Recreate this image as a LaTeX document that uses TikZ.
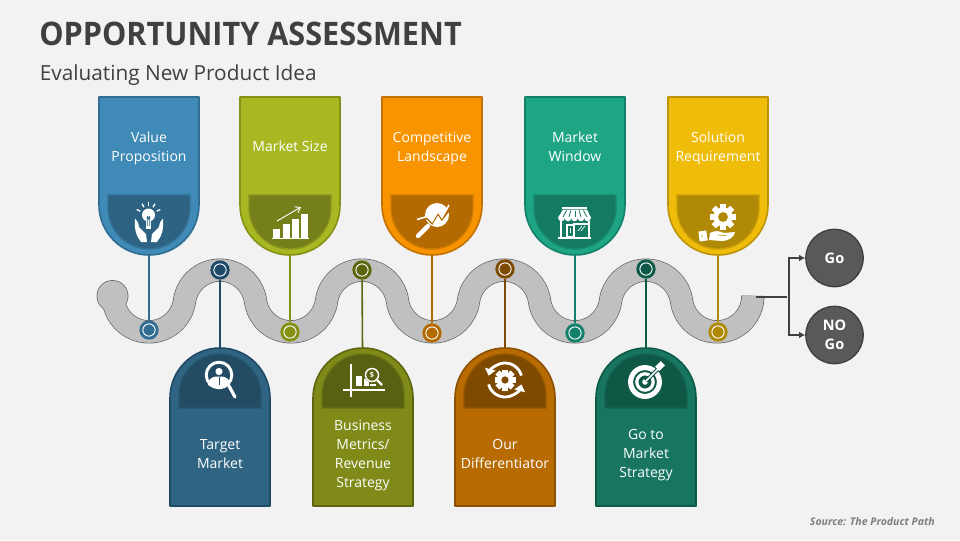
\documentclass[tikz,border=0pt]{standalone}
\usepackage{graphicx}
\usepackage{fontspec}
\setmainfont{Open Sans}
\usetikzlibrary{arrows.meta}
\tikzset{>={Latex[width=5pt,length=4.5pt]}}
\definecolor{pagebg}{HTML}{F2F2F2}
\definecolor{titlegrey}{HTML}{404040}
\definecolor{bandfill}{HTML}{C0C0C0}
\definecolor{bandedge}{HTML}{5F5F5F}
\definecolor{blueA}{HTML}{3F8AB6}
\definecolor{blueB}{HTML}{2F6D92}
\definecolor{blueC}{HTML}{2D6283}
\definecolor{greenA}{HTML}{A8B823}
\definecolor{greenB}{HTML}{849115}
\definecolor{greenC}{HTML}{76801A}
\definecolor{orangeA}{HTML}{F89400}
\definecolor{orangeB}{HTML}{C27200}
\definecolor{orangeC}{HTML}{B36A00}
\definecolor{tealA}{HTML}{1EA583}
\definecolor{tealB}{HTML}{13806A}
\definecolor{tealC}{HTML}{147A62}
\definecolor{yellowA}{HTML}{F0BC0A}
\definecolor{yellowB}{HTML}{BD930A}
\definecolor{yellowC}{HTML}{B08A06}
\definecolor{navyA}{HTML}{2F6583}
\definecolor{navyB}{HTML}{1E4A68}
\definecolor{navyC}{HTML}{234B63}
\definecolor{oliveA}{HTML}{7F8A18}
\definecolor{oliveB}{HTML}{5D660F}
\definecolor{oliveC}{HTML}{586012}
\definecolor{brownA}{HTML}{B86B00}
\definecolor{brownB}{HTML}{8A5000}
\definecolor{brownC}{HTML}{7E4A00}
\definecolor{pineA}{HTML}{177560}
\definecolor{pineB}{HTML}{0E5A48}
\definecolor{pineC}{HTML}{105846}
\definecolor{goA}{HTML}{595959}
\definecolor{goB}{HTML}{404040}
\definecolor{sourcegrey}{HTML}{7F7F7F}
\tikzset{
  cardbox/.style={inner sep=0pt,minimum width=75pt,minimum height=119pt},
  cardtext/.style={text=white,align=center,inner sep=0pt,font=\fontsize{10.5}{14.3}\selectfont},
  dotnode/.style={circle,inner sep=0pt,minimum size=14.5pt,
    path picture={\draw[white,line width=0.7pt] (path picture bounding box.center) circle[radius=4.6pt];}},
  link/.style={line width=1.2pt},
  decide/.style={circle,fill=goA,draw=goB,line width=1pt,inner sep=0pt,minimum size=43pt,
    text=white,align=center,font=\fontsize{10.9}{14.3}\selectfont\bfseries},
  flow/.style={draw=goB,line width=1.2pt},
}

\newcommand{\BandPath}{(113.15,296)
  arc[start angle=180,end angle=8,radius=35.85]
  arc[start angle=188,end angle=352,radius=35.85]
  arc[start angle=172,end angle=8,radius=35.85]
  arc[start angle=188,end angle=352,radius=35.85]
  arc[start angle=172,end angle=8,radius=35.85]
  arc[start angle=188,end angle=352,radius=35.85]
  arc[start angle=172,end angle=8,radius=35.85]
  arc[start angle=188,end angle=352,radius=35.85]
  arc[start angle=172,end angle=0,radius=35.85] -- ++(0,2)}

\newcommand{\TopCard}[6]{
  \draw[fill=#3,draw=#4,line width=1.2pt,line join=round]
  (#2-50,97) -- (#2+50,97) -- (#2+50,205) arc[start angle=0,end angle=180,radius=50] -- cycle;
  \draw[fill=#5,draw=#5!60!#3,line width=1pt]
  (#2-41,195) -- (#2+41,195) -- (#2+41,208) arc[start angle=0,end angle=180,radius=41] -- cycle;
  \node[cardbox] (#1) at (#2,176) {};
  \node[cardtext] (#1Text) at (#2,148) {\strut #6\strut};
}
\newcommand{\LowCard}[6]{
  \draw[fill=#3,draw=#4,line width=1.2pt,line join=round]
  (#2-50,506) -- (#2+50,506) -- (#2+50,398) arc[start angle=0,end angle=-180,radius=50] -- cycle;
  \draw[fill=#5,draw=#5!60!#3,line width=1pt]
  (#2-41,408) -- (#2+41,408) -- (#2+41,395) arc[start angle=0,end angle=-180,radius=41] -- cycle;
  \node[cardbox] (#1) at (#2,427) {};
  \node[cardtext] (#1Text) at (#2,455) {\strut #6\strut};
}
\newcommand{\GearIcon}[5]{
  \foreach \a in {0,45,...,315}
    \fill[white,rotate around={\a:(#1,#2)}] (#1-2.8,#2-#4) rectangle (#1+2.8,#2+#4);
  \fill[white] (#1,#2) circle[radius=#3];
  \fill[#5] (#1,#2) circle[radius=0.52*#3];
}

\begin{document}
\begin{tikzpicture}[x=0.75pt,y=0.75pt,yscale=-1]

  \fill[pagebg] (0,0) rectangle (960,540);

  \node[anchor=west,inner sep=0pt,text=titlegrey,font=\fontsize{24.3}{28}\selectfont\bfseries]
  (titleText) at (39,34) {\scalebox{0.945}[1]{OPPORTUNITY ASSESSMENT}};
  \node[anchor=west,inner sep=0pt,text=titlegrey,font=\fontsize{15.6}{18}\selectfont]
  (subtitleText) at (39.5,75) {Evaluating New Product Idea};
  \node[anchor=east,inner sep=0pt,text=sourcegrey,font=\fontsize{7.9}{9}\selectfont\bfseries\itshape]
  (sourceText) at (935,522) {Source: The Product Path};

  \draw[bandedge,line width=17.4pt] \BandPath;
  \fill[bandedge] (112.5,296) circle[radius=15.9];
  \draw[bandfill,line width=16.4pt] \BandPath;
  \fill[bandfill] (112.5,296) circle[radius=15.2];

  \foreach \name/\x/\y/\col in {dotA/149/330/blueB,dotB/220/270/navyB,dotC/290/332/greenB,
    dotD/362/270/oliveB,dotE/432/333/orangeC,dotF/505/269/brownC,dotG/575/333/tealB,
    dotH/646/269/pineB,dotI/718/332/yellowC}
    \node[dotnode,fill=\col] (\name) at (\x,\y) {};

  \TopCard{valueCard}{149}{blueA}{blueB}{blueC}{Value\\Proposition}
  \TopCard{sizeCard}{290}{greenA}{greenB}{greenC}{Market Size}
  \TopCard{rivalCard}{432}{orangeA}{orangeB}{orangeC}{Competitive\\Landscape}
  \TopCard{windowCard}{575}{tealA}{tealB}{tealC}{Market\\Window}
  \TopCard{solutionCard}{718}{yellowA}{yellowB}{yellowC}{Solution\\Requirement}

  \LowCard{targetCard}{220}{navyA}{navyB}{navyC}{Target\\Market}
  \LowCard{metricCard}{363}{oliveA}{oliveB}{oliveC}{Business\\Metrics/\\Revenue\\Strategy}
  \LowCard{edgeCard}{505}{brownA}{brownB}{brownC}{Our\\Differentiator}
  \LowCard{planCard}{646}{pineA}{pineB}{pineC}{Go to\\Market\\Strategy}

  \draw[link,draw=blueB] (dotA) -- (valueCard);
  \draw[link,draw=navyB] (dotB) -- (targetCard);
  \draw[link,draw=greenB] (dotC) -- (sizeCard);
  \draw[link,draw=oliveB] (dotD) -- (metricCard);
  \draw[link,draw=orangeC] (dotE) -- (rivalCard);
  \draw[link,draw=brownC] (dotF) -- (edgeCard);
  \draw[link,draw=tealB] (dotG) -- (windowCard);
  \draw[link,draw=pineB] (dotH) -- (planCard);
  \draw[link,draw=yellowC] (dotI) -- (solutionCard);

  \node[decide] (goNode) at (834.5,258) {Go};
  \node[decide] (nogoNode) at (834.5,335) {NO\\Go};
  \coordinate (bandEnd) at (756,297);
  \coordinate (splitPoint) at (789,297);
  \draw[flow,shorten >=1.5pt] (bandEnd) -- (splitPoint);
  \draw[flow,->] (splitPoint) |- (goNode);
  \draw[flow,->] (splitPoint) |- (nogoNode);

  % bulb and hands
  \fill[white] (148.5,215) circle[radius=6.5];
  \fill[white] (146,219) rectangle (151,229);
  \draw[blueC,line width=0.5pt] (147.3,216) -- (147.3,226) (149.7,216) -- (149.7,226) (147.3,216) -- (148.5,219) -- (149.7,216);
  \foreach \a in {-155,-120,-90,-60,-25}
    \draw[white,line width=1pt] (148.5,215)++(\a:9) -- ++(\a:4);
  \fill[white] (135,218.5) .. controls (137,220) and (138.5,223) .. (139,227) -- (146,234) -- (147,242) -- (141,242)
  .. controls (136,236) and (134,228) .. (135,218.5) -- cycle;
  \fill[white] (163,218.5) .. controls (161,220) and (159.5,223) .. (159,227) -- (152,234) -- (151,242) -- (157,242)
  .. controls (162,236) and (164,228) .. (163,218.5) -- cycle;

  % bars and arrow
  \fill[white] (273,229) rectangle (280,238);
  \fill[white] (283,224) rectangle (290,238);
  \fill[white] (292,219) rectangle (299,238);
  \fill[white] (301,214) rectangle (308,238);
  \draw[white,line width=0.8pt] (272,238.5) -- (309,238.5);
  \draw[white,line width=0.7pt,-{Straight Barb[length=3.5pt,width=5pt]}] (277,221) -- (301,207);

  % globe and magnifier
  \draw[white,line width=3.2pt,line cap=round] (418,236) -- (428,226);
  \fill[white] (437,215) circle[radius=12];
  \draw[orangeC,line width=1.8pt] (417,221) -- (427,218) -- (432,223) -- (438,213) -- (442,219) -- (451,207);
  \draw[white,line width=1.2pt] (417,219.5) -- (427,216.5) -- (432,221.5) -- (438,211.5) -- (442,217.5) -- (449,205);

  % shop
  \fill[white] (562,207) rectangle (587,208.5);
  \fill[white] (563,209.5) -- (587,209.5) -- (591,218) -- (558,218) -- cycle;
  \foreach \x in {561.5,568,574.5,581,587.5}
    \fill[white] (\x,218) circle[radius=3.3];
  \foreach \x in {-12,-6,0,6,12}
    \draw[tealC,line width=0.6pt] (575+0.7*\x,210.5) -- (575+\x,217);
  \draw[white,line width=1pt] (561,221) -- (561,238) (589,221) -- (589,238);
  \fill[white] (558,237) rectangle (591,238.5);
  \draw[white,line width=0.8pt] (567,225) rectangle (574,237) (574,237) -- (574,224) -- (588,224);
  \draw[white,line width=0.5pt] (578,231) -- (582,226) (581,231) -- (585,226);
  \draw[white,line width=0.8pt] (570.5,228) -- (570.5,233);

  % gear and hand
  \GearIcon{723}{217}{9.5}{13}{yellowC}
  \begin{scope}[rotate around={-8:(703,236)}]
    \fill[white] (699,231) rectangle (707,241);
    \fill[yellowC] (702,236) circle[radius=0.8];
  \end{scope}
  \fill[white] (710,233) .. controls (715,230) and (720,231) .. (724,233) -- (735,232)
  .. controls (734,237) and (729,241) .. (722,241) -- (709,240) -- cycle;
  \draw[yellowC,line width=0.5pt] (718,235) -- (726,235.5);

  % person and magnifier
  \draw[white,line width=2.4pt,line cap=round] (229,386) -- (235,397);
  \draw[white,line width=2.2pt] (219,375) circle[radius=12.8];
  \fill[white] (219,371.5) circle[radius=3.6];
  \fill[white] (208,385) .. controls (208,379) and (212,377) .. (216,376.5) -- (222,376.5)
  .. controls (226,377) and (230,379) .. (230,385) .. controls (225,389) and (213,389) .. (208,385) -- cycle;
  \draw[navyC,line width=0.6pt] (219,377) -- (219,385);

  % chart and magnifier
  \draw[white,line width=1.5pt] (351,364) -- (351,397) (343,390) -- (385,390);
  \fill[white] (356,376) rectangle (362,386);
  \fill[white] (364,379) rectangle (369,386);
  \fill[white] (370,384) rectangle (376,386);
  \fill[oliveC] (372,375) circle[radius=7.5];
  \draw[white,line width=1.1pt] (372,375) circle[radius=6.5];
  \draw[white,line width=1.6pt] (377,380) -- (382,385);
  \node[inner sep=0pt,text=white,font=\fontsize{5.5}{6}\selectfont\bfseries] (moneyText) at (372,375) {\$};

  % gear and round arrows
  \GearIcon{505}{380}{7}{10.5}{brownC}
  \draw[white,line width=2.1pt,-{Triangle[width=8pt,length=5pt]}]
  (505,380)++(-15:17) arc[start angle=-15,end angle=-165,radius=17];
  \draw[white,line width=2.1pt,-{Triangle[width=8pt,length=5pt]}]
  (505,380)++(165:17) arc[start angle=165,end angle=15,radius=17];

  % target and arrow
  \draw[white,line width=3.8pt] (645,382) circle[radius=14.4];
  \draw[white,line width=2.4pt] (645,382) circle[radius=8.2];
  \fill[white] (645,382) circle[radius=2.8];
  \draw[pineC,line width=2.8pt] (646,381) -- (660,367);
  \draw[white,line width=1.3pt] (646,381) -- (660,367);
  \fill[white,rotate around={-45:(660,366)}] (656,363) rectangle (664,369);

\end{tikzpicture}
\end{document}
